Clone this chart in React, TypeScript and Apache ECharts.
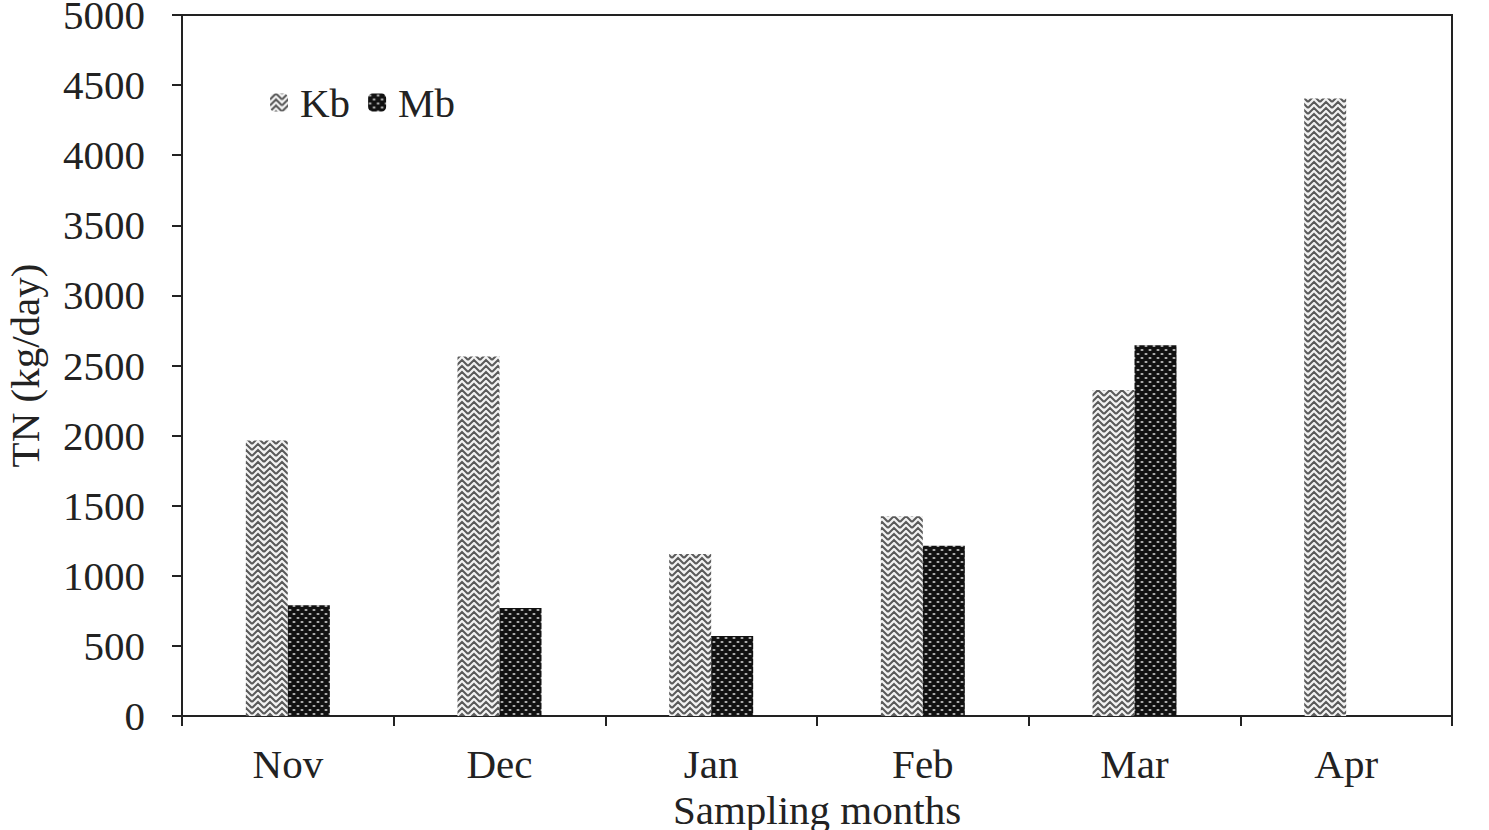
import React, { useEffect, useRef } from "react";
import * as echarts from "echarts";

const categories = ["Nov", "Dec", "Jan", "Feb", "Mar", "Apr"];
const kbValues = [1965, 2565, 1155, 1425, 2325, 4405];
const mbValues: (number | null)[] = [790, 770, 570, 1215, 2645, null];
const yTicks = { min: 0, max: 5000, interval: 500 };

function makeKbPattern(): HTMLCanvasElement {
  const c = document.createElement("canvas");
  c.width = 12;
  c.height = 12;
  const ctx = c.getContext("2d")!;
  ctx.fillStyle = "#f2f2f2";
  ctx.fillRect(0, 0, 12, 12);
  ctx.strokeStyle = "#5a5a5a";
  ctx.lineWidth = 2;
  ctx.beginPath();
  for (let y = -12; y <= 24; y += 6) {
    ctx.moveTo(0, y + 6);
    ctx.lineTo(6, y);
    ctx.lineTo(12, y + 6);
  }
  ctx.stroke();
  return c;
}

function makeMbPattern(): HTMLCanvasElement {
  const c = document.createElement("canvas");
  c.width = 8;
  c.height = 8;
  const ctx = c.getContext("2d")!;
  ctx.fillStyle = "#111";
  ctx.fillRect(0, 0, 8, 8);
  ctx.fillStyle = "#bbb";
  ctx.beginPath();
  ctx.ellipse(2, 2, 1.6, 1.1, 0, 0, Math.PI * 2);
  ctx.fill();
  ctx.beginPath();
  ctx.ellipse(6, 6, 1.6, 1.1, 0, 0, Math.PI * 2);
  ctx.fill();
  return c;
}

export default function App() {
  const ref = useRef<HTMLDivElement>(null);
  useEffect(() => {
    if (!ref.current) return;
    const chart = echarts.init(ref.current, null, { renderer: "svg" });
    const font = "Liberation Serif";
    const fs = 41;
    const kbPat = { image: makeKbPattern(), repeat: "repeat" };
    const mbPat = { image: makeMbPattern(), repeat: "repeat" };
    chart.setOption({
      animation: false,
      backgroundColor: "#fff",
      textStyle: { fontFamily: font },
      grid: {
        left: 182,
        right: 37,
        top: 15,
        bottom: 114,
        containLabel: false,
        outerBoundsMode: "none",
        show: true,
        borderColor: "#222",
        borderWidth: 2,
        backgroundColor: "transparent",
      },
      legend: {
        left: 265,
        top: 77,
        itemWidth: 18,
        itemHeight: 18,
        itemGap: 18,
        textStyle: { fontFamily: font, fontSize: fs, color: "#222", padding: [0, 0, 0, 7] },
        data: ["Kb", "Mb"],
      },
      xAxis: {
        type: "category",
        data: categories,
        name: "Sampling months",
        nameLocation: "middle",
        nameGap: 73,
        nameTextStyle: { fontFamily: font, fontSize: fs, color: "#222" },
        axisLine: { lineStyle: { color: "#222", width: 2 } },
        axisTick: { show: true, length: 10, lineStyle: { color: "#222", width: 2 } },
        axisLabel: { fontFamily: font, fontSize: fs, color: "#222", margin: 27 },
      },
      yAxis: {
        type: "value",
        min: yTicks.min,
        max: yTicks.max,
        interval: yTicks.interval,
        name: "TN (kg/day)",
        nameLocation: "middle",
        nameGap: 137,
        nameTextStyle: { fontFamily: font, fontSize: fs, color: "#222" },
        axisLine: { show: true, lineStyle: { color: "#222", width: 2 } },
        axisTick: { show: true, length: 10, lineStyle: { color: "#222", width: 2 } },
        splitLine: { show: false },
        axisLabel: {
          fontFamily: font,
          fontSize: fs,
          color: "#222",
          margin: 37,
          formatter: (v: number) => String(v),
        },
      },
      series: [
        {
          name: "Kb",
          type: "bar",
          data: kbValues,
          barWidth: 42,
          barGap: "0%",
          itemStyle: { color: kbPat },
        },
        {
          name: "Mb",
          type: "bar",
          data: mbValues,
          barWidth: 42,
          barGap: "0%",
          itemStyle: { color: mbPat },
        },
      ],
    });
    return () => chart.dispose();
  }, []);
  return (
    <div
      ref={ref}
      style={{ position: "fixed", left: 0, top: 0, width: 1489, height: 830, background: "#fff" }}
    />
  );
}
